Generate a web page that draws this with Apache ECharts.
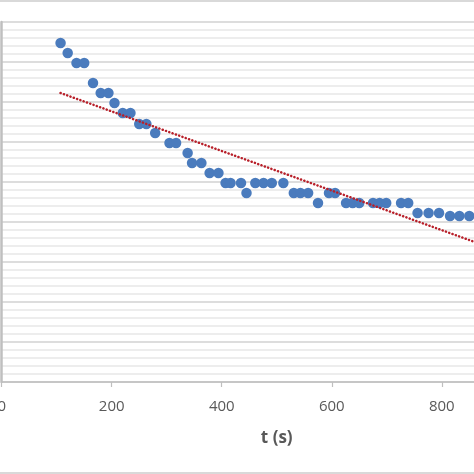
<!DOCTYPE html>
<html>
<head>
<meta charset="utf-8">
<script src="https://cdn.jsdelivr.net/npm/echarts@6/dist/echarts.min.js"></script>
<style>
  html, body { margin: 0; padding: 0; background: #fff; }
  #main { width: 474px; height: 474px; }
</style>
</head>
<body>
<div id="main"></div>
<script>
// measured points (t in s)
const tValues = [107, 120, 136, 150, 166, 180, 194, 205, 220, 234, 250, 263, 279, 305, 317, 338, 346, 363, 378, 394,
  407, 416, 435, 445, 461, 476, 491, 512, 531, 543, 557, 575, 595, 606, 626, 638, 650, 675, 687, 699,
  726, 739, 756, 776, 795, 815, 832, 850]
const yValues = [33.9, 32.9, 31.9, 31.9, 29.9, 28.9, 28.9, 27.9, 26.9, 26.9, 25.8, 25.8, 24.9, 23.9, 23.9, 22.9, 21.9, 21.9, 20.9, 20.9,
  19.9, 19.9, 19.9, 18.9, 19.9, 19.9, 19.9, 19.9, 18.9, 18.9, 18.9, 17.9, 18.9, 18.9, 17.9, 17.9, 17.9, 17.9, 17.9, 17.9,
  17.9, 17.9, 16.9, 16.9, 16.9, 16.6, 16.6, 16.6]

// linear trend line, end points
const trendT = [107, 870]
const trendY = [28.9, 13.8]

const xTicks = [0, 200, 400, 600, 800, 1000]

const chart = echarts.init(document.getElementById('main'))

chart.setOption({
  animation: false,
  backgroundColor: '#fff',
  textStyle: { fontFamily: 'Open Sans' },
  grid: { left: 1.7, right: -77.8, top: 22, bottom: 92, containLabel: false, outerBoundsMode: 'none' },
  graphic: [
    { type: 'rect', shape: { x: 0, y: 0, width: 474, height: 2 }, style: { fill: '#d9d9d9' } },
    { type: 'rect', shape: { x: 0, y: 472, width: 474, height: 2 }, style: { fill: '#d9d9d9' } }
  ],
  xAxis: {
    type: 'value',
    min: xTicks[0],
    max: xTicks[xTicks.length - 1],
    interval: 200,
    name: 't (s)',
    nameLocation: 'middle',
    nameGap: 48,
    nameTextStyle: { fontSize: 17, fontWeight: 'bold', color: '#595959', fontFamily: 'Open Sans' },
    axisLine: { lineStyle: { color: '#bfbfbf', width: 1.5 } },
    axisTick: { show: true, length: 5, lineStyle: { color: '#bfbfbf', width: 1.2 } },
    axisLabel: { fontSize: 15, color: '#595959', margin: 17, fontFamily: 'Open Sans' },
    splitLine: { show: false }
  },
  yAxis: {
    type: 'value',
    min: 0,
    max: 36,
    interval: 4,
    axisLine: { show: true, lineStyle: { color: '#bfbfbf', width: 2.5 } },
    axisTick: { show: false },
    axisLabel: { show: false },
    splitLine: { lineStyle: { color: '#d2d2d2', width: 1.6 } },
    minorTick: { show: false, splitNumber: 5 },
    minorSplitLine: { show: true, lineStyle: { color: '#e8e8e8', width: 1.5 } }
  },
  series: [
    {
      type: 'scatter',
      data: tValues.map((t, i) => [t, yValues[i]]),
      symbolSize: 10.5,
      itemStyle: { color: '#4a7bbd', opacity: 1 }
    },
    {
      type: 'line',
      data: trendT.map((t, i) => [t, trendY[i]]),
      symbol: 'none',
      lineStyle: { color: '#b8202a', width: 2.5, type: [0.1, 3.4], cap: 'round' },
      z: 3
    }
  ]
})
</script>
</body>
</html>
